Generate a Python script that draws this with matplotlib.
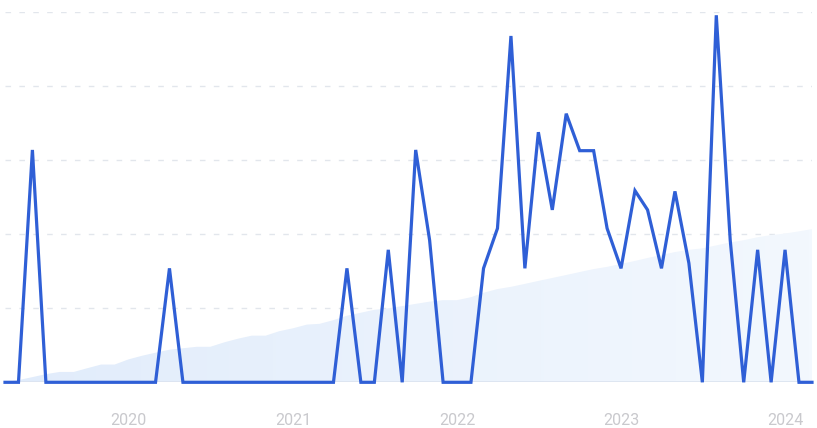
import numpy as np
import pandas as pd
import matplotlib
matplotlib.use("Agg")
import matplotlib.pyplot as plt
import matplotlib.dates as mdates

# monthly series, Apr 2019 .. Mar 2024
months = pd.date_range("2019-04-01", periods=60, freq="MS")
values = [0, 0, 3.14, 0, 0, 0, 0, 0, 0, 0, 0, 0,
          1.54, 0, 0, 0, 0, 0, 0, 0, 0, 0, 0, 0,
          0, 1.54, 0, 0, 1.79, 0, 3.14, 1.92, 0, 0, 0, 1.54,
          2.08, 4.68, 1.54, 3.38, 2.33, 3.63, 3.13, 3.13, 2.08, 1.54,
          2.59, 2.33, 1.54, 2.58, 1.61, 0, 4.96, 1.92, 0, 1.79,
          0, 1.79, 0, 0]
# background trend area
trend = [0, 0.03, 0.07, 0.11, 0.14, 0.14, 0.19, 0.24, 0.24, 0.31, 0.36, 0.40,
         0.44, 0.46, 0.48, 0.48, 0.54, 0.59, 0.63, 0.63, 0.69, 0.73, 0.78, 0.79,
         0.84, 0.90, 0.94, 0.98, 1.00, 1.03, 1.06, 1.09, 1.11, 1.11, 1.15, 1.21,
         1.26, 1.29, 1.33, 1.37, 1.41, 1.45, 1.49, 1.53, 1.56, 1.60, 1.64, 1.68,
         1.72, 1.76, 1.79, 1.81, 1.85, 1.89, 1.92, 1.96, 1.99, 2.01, 2.04, 2.07]
year_ticks = ["2020", "2021", "2022", "2023", "2024"]

W, H = 817, 428
fig = plt.figure(figsize=(W / 100, H / 100), dpi=100)
ax = fig.add_axes([5 / W, (H - 382.3) / H, 807 / W, 370 / H])

x = mdates.date2num(months)
ax.set_xlim(x[0], x[-1])
ax.set_ylim(0, 5)

# gradient-filled trend area
poly = ax.fill_between(x, 0, trend, color="none", lw=0)
grad = np.linspace(0, 1, 256).reshape(1, -1)
cmap = matplotlib.colors.LinearSegmentedColormap.from_list("g", ["#e1ecfb", "#f3f8fe"])
img = ax.imshow(grad, extent=[x[0], x[-1], 0, 5], aspect="auto", cmap=cmap, zorder=1)
img.set_clip_path(poly.get_paths()[0], transform=ax.transData)

for y in [1, 2, 3, 4, 5]:
    ax.axhline(y, color="#e2e6ec", lw=1, dashes=(4, 6), zorder=0)
ax.axhline(0, color="#dbe3ef", lw=1.2, zorder=2)

ax.plot(x, values, color="#2f5fd6", lw=2.3, solid_joinstyle="miter", zorder=3, clip_on=False)

ticks = mdates.date2num(pd.to_datetime([t + "-01-01" for t in year_ticks]))
ax.set_xticks(ticks)
ax.set_xticklabels(year_ticks, fontfamily="Roboto", fontsize=11.5, color="#c9c9cd")
ax.tick_params(axis="x", length=0, pad=22)
ax.set_yticks([])
for s in ax.spines.values():
    s.set_visible(False)

fig.savefig("out.png", dpi=100)
